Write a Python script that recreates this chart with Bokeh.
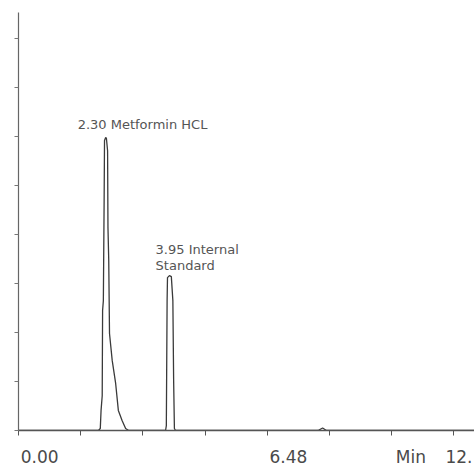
from bokeh.plotting import figure
from bokeh.models import FixedTicker, CustomJSTickFormatter, Range1d
from bokeh.core.properties import value
from bokeh.embed import file_html
from bokeh.resources import INLINE

# retention time (min) and detector signal
times = [0.00, 1.62, 2.08, 2.13, 2.15, 2.18, 2.19, 2.21, 2.23, 2.24, 2.27, 2.29,
         2.32, 2.33, 2.35, 2.37, 2.44, 2.53, 2.60, 2.70, 2.79, 2.87,
         3.83, 3.85, 3.87, 3.88, 3.93, 3.98, 4.02, 4.04, 4.06, 4.09,
         7.80, 7.92, 8.02, 11.87]
signal = [0.00, 0.00, 0.00, 0.04, 0.41, 0.71, 2.45, 2.65, 4.69, 5.92, 5.98, 5.96,
          5.71, 4.14, 3.47, 1.98, 1.43, 0.96, 0.41, 0.20, 0.04, 0.00,
          0.00, 0.10, 2.65, 3.12, 3.16, 3.14, 2.65, 1.02, 0.04, 0.00,
          0.00, 0.05, 0.00, 0.00]

# peak annotations
peak_text = ["2.30 Metformin HCL", "3.95 Internal", "Standard"]
peak_x = [1.54, 3.57, 3.57]
peak_y = [6.24, 3.69, 3.37]

# x axis: tick marks and the printed labels (left-aligned under their ticks)
x_ticks = [0.00, 1.62, 3.24, 4.86, 6.48, 8.10, 9.72, 11.34]
x_label_pos = [0.55, 7.03, 10.22, 11.47]
x_labels = ["0.00", "6.48", "Min", "12."]
y_ticks = [0, 1, 2, 3, 4, 5, 6, 7, 8]

p = figure(width=474, height=474, output_backend="svg", toolbar_location=None,
           x_range=Range1d(0, 11.875), y_range=Range1d(0, 8.53),
           min_border_left=18, min_border_right=0, min_border_top=12,
           min_border_bottom=44)
p.outline_line_color = None
p.grid.grid_line_color = None
p.background_fill_color = "white"

p.line(times, signal, line_color="#3a3a3a", line_width=1.3)

p.text(peak_x, peak_y, text=peak_text, text_font=value("DejaVu Sans"),
       text_font_size="13px", text_color="#555555", text_baseline="middle")

xa = p.xaxis[0]
xa.ticker = FixedTicker(ticks=x_label_pos, minor_ticks=x_ticks)
xa.formatter = CustomJSTickFormatter(args=dict(labels=x_labels),
                                     code="return labels[index];")
xa.major_tick_out = 0
xa.major_tick_in = 0
xa.minor_tick_out = 5
xa.minor_tick_in = 0
xa.minor_tick_line_color = "#555555"
xa.axis_line_color = "#555555"
xa.axis_line_width = 1.3
xa.major_label_standoff = 11
xa.major_label_text_font = "DejaVu Sans"
xa.major_label_text_font_size = "17px"
xa.major_label_text_color = "#4a4a4a"

ya = p.yaxis[0]
ya.ticker = FixedTicker(ticks=y_ticks)
ya.formatter = CustomJSTickFormatter(code="return '';")
ya.major_label_standoff = 0
ya.major_tick_out = 4
ya.major_tick_in = 0
ya.minor_tick_out = 0
ya.minor_tick_in = 0
ya.major_tick_line_color = "#777777"
ya.axis_line_color = "#666666"
ya.axis_line_width = 1.2

open("out.html", "w").write(file_html(p, INLINE))
